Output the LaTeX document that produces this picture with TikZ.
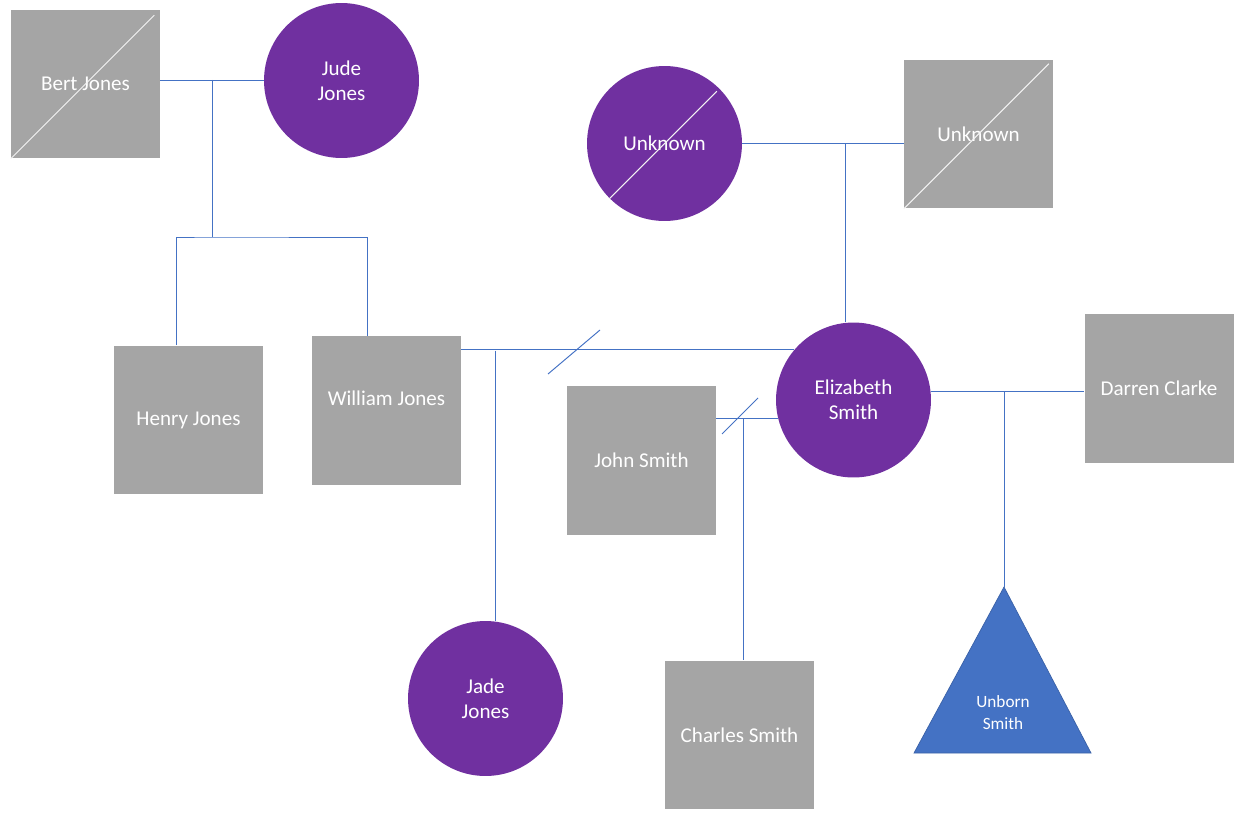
\documentclass[tikz,border=0pt]{standalone}
\usepackage{fontspec}
\setmainfont{Carlito}
\usetikzlibrary{calc}
\definecolor{boxgrey}{HTML}{A5A5A5}
\definecolor{femalepurple}{HTML}{7030A0}
\definecolor{linkblue}{HTML}{4472C4}

\begin{document}
\begin{tikzpicture}[
  x=0.02cm, y=-0.02cm,
  font=\fontsize{12}{14.4}\selectfont,
  male/.style={rectangle, fill=boxgrey, text=white, align=center, inner sep=0pt, minimum size=2.98cm},
  female/.style={circle, fill=femalepurple, text=white, align=center, inner sep=0pt, minimum size=3.1cm},
  link/.style={draw=linkblue, line width=0.55pt},
  dead/.style={draw=white!88!boxgrey, line width=0.6pt}
]
\useasboundingbox (0,0) rectangle (1250,821);
\node[male] (bert) at (85.5,84) {Bert Jones};
\node[female] (jude) at (341.5,80.5) {Jude\\Jones};
\node[male] (henry) at (188.5,420) {Henry Jones};
\node[male, label={[text=white, yshift=0.25cm]center:William Jones}] (william) at (386.5,410.5) {};
\node[female] (unkf) at (664.5,143.5) {Unknown};
\node[male] (unkm) at (978.5,134) {Unknown};
\node[female] (eliz) at (853.5,400) {Elizabeth\\Smith};
\node[male] (john) at (641.5,460.5) {John Smith};
\node[female] (jade) at (485.5,698.5) {Jade\\Jones};
\node[male] (charles) at (739.5,735) {Charles Smith};
\node[male] (darren) at (1159,388.5) {Darren Clarke};
\coordinate (apex) at (1004,587);
\fill[linkblue, draw=linkblue!85!black, line width=0.4pt] (apex) -- (914,753) -- (1091,753) -- cycle;
\node[text=white, align=center, font=\fontsize{9.8}{12.4}\selectfont] (unborn) at (1003,712.5) {Unborn\\Smith};
\draw[dead] (bert.south west) -- ($(bert.south west)!0.96!(bert.north east)$);
\draw[dead] (unkm.south west) -- ($(unkm.south west)!0.97!(unkm.north east)$);
\draw[dead] (unkf.225) -- ($(unkf.center)!0.95!(unkf.45)$);
\coordinate (m1) at (212,80);
\coordinate (sib) at (212,237);
\draw[link] (bert.east |- m1) -- (m1 -| jude.west);
\draw[link] (m1) -- (sib);
\draw[link] ($(henry.north)+(-12.5,0)$) |- (sib) -| ($(william.north)+(-19.5,0)$);
\coordinate (m2) at (845,143.5);
\draw[link] (unkf.east) -- (unkf.east -| unkm.west);
\draw[link] (m2) -- (m2 |- eliz.north);
\coordinate (m3) at (495,350.5);
\coordinate (div1) at (574,352);
\draw[link] (william.east |- eliz.140) -- (eliz.140);
\draw[link] (m3) -- (m3 |- jade.north);
\draw[link] ($(div1)+(-26,22)$) -- ($(div1)+(26,-22)$);
\coordinate (m4) at (743,419);
\coordinate (div2) at (740,416);
\draw[link] (john.east |- eliz.194) -- (eliz.194);
\draw[link] (m4) -- (m4 |- charles.north);
\draw[link] ($(div2)+(-18,18)$) -- ($(div2)+(18,-18)$);
\coordinate (m5) at (1004,392);
\draw[link] (eliz.6) -- (eliz.6 -| darren.west);
\draw[link] (m5) -- (apex);
\end{tikzpicture}
\end{document}
